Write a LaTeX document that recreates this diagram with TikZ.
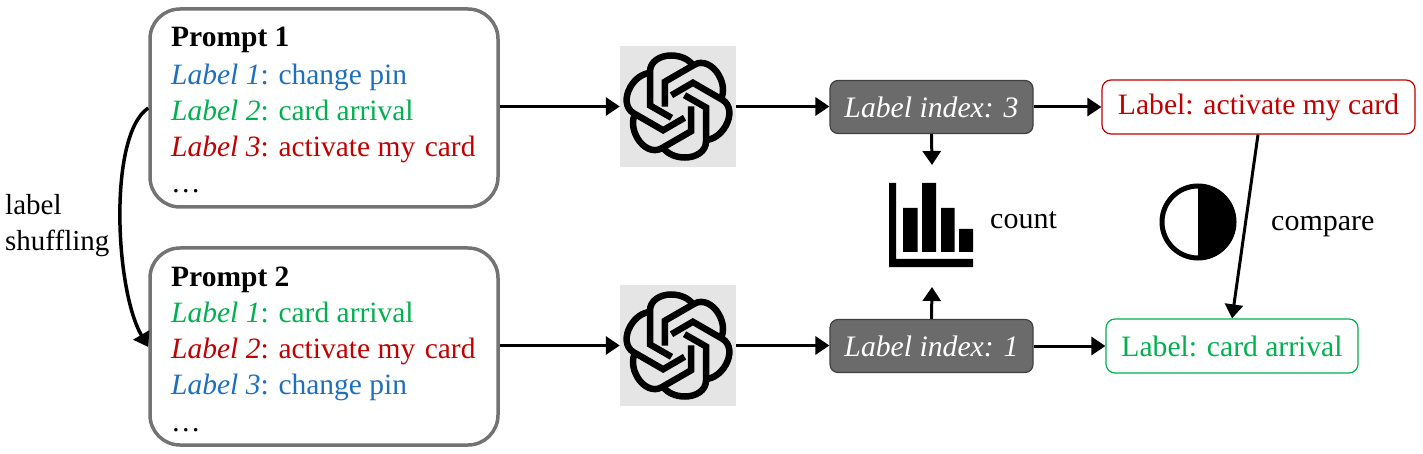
\documentclass[tikz,border=0pt]{standalone}
\usepackage{fontspec}
\setmainfont{Liberation Serif}
\usetikzlibrary{arrows.meta,calc}
\definecolor{lblue}{HTML}{1F6FBF}
\definecolor{lgreen}{HTML}{00B050}
\definecolor{lred}{HTML}{C00000}
\tikzset{
  conn/.style={line width=3pt,-{Triangle[length=14pt,width=18pt]}},
  promptbox/.style={draw=black!55,line width=3.5pt,rounded corners=30pt,fill=white,inner sep=0pt},
  idxbox/.style={draw=black!75,line width=1.2pt,rounded corners=8pt,fill=black!58,text=white,minimum width=203pt,minimum height=53pt,inner sep=0pt,font=\fontsize{29.7}{32}\selectfont\itshape},
  resbox/.style={line width=1.2pt,rounded corners=9pt,fill=white,minimum height=54pt,inner sep=0pt,font=\fontsize{29.6}{32}\selectfont},
  logobg/.style={fill=black!10,draw=none,minimum width=116pt,minimum height=121pt,inner sep=0pt},
  txt/.style={anchor=base west,inner sep=0pt,font=\fontsize{29.5}{32}\selectfont},
}
\newcommand{\gptlogo}[2]{%
  \foreach \a in {0,60,...,300}{
    \begin{scope}[shift={(#1,#2)},rotate=\a]
      \draw[line width=6.5pt,line join=miter,black]
        (-6.5,11.3) -- (-28,-1) -- (-28,-35)
        .. controls (-28,-45) and (-18,-51) .. (-7,-51)
        .. controls (3,-51) and (11,-47) .. (15,-41);
    \end{scope}
  }%
}
\begin{document}
\begin{tikzpicture}[x=1pt,y=-1pt]
\useasboundingbox (0,0) rectangle (1423,454);
% prompt boxes
\node[promptbox,minimum width=348pt,minimum height=198pt] (p1) at (324,108) {};
\node[promptbox,minimum width=348pt,minimum height=197pt] (p2) at (324,346.5) {};
\node[txt,font=\fontsize{29.5}{30}\selectfont\bfseries] (p1t) at (171,47) {Prompt 1};
\node[txt,text=lblue] (p1a) at (171,84.5) {\textit{Label 1}: change pin};
\node[txt,text=lgreen] (p1b) at (171,120.5) {\textit{Label 2}: card arrival};
\node[txt,text=lred] (p1c) at (171,156.5) {\textit{Label 3}: activate my\hspace{2pt} card};
\node[txt] (p1d) at (171,193) {…};
\node[txt,font=\fontsize{29.5}{30}\selectfont\bfseries] (p2t) at (171,286) {Prompt 2};
\node[txt,text=lgreen] (p2a) at (171,322.5) {\textit{Label 1}: card arrival};
\node[txt,text=lred] (p2b) at (171,358.5) {\textit{Label 2}: activate my\hspace{2pt} card};
\node[txt,text=lblue] (p2c) at (171,394.5) {\textit{Label 3}: change pin};
\node[txt] (p2d) at (171,431) {…};
% logos
\node[logobg] (g1) at (678,106.5) {};
\node[logobg] (g2) at (678,345.5) {};
\gptlogo{678}{106.5}
\gptlogo{678}{345.5}
% index boxes
\node[idxbox] (i1) at (931.5,107) {Label index: 3};
\node[idxbox] (i2) at (931.5,346) {Label index: 1};
% results
\node[resbox,draw=lred,text=lred,minimum width=313pt] (r1) at (1258.5,107) {Label: activate my card};
\node[resbox,draw=lgreen,text=lgreen,minimum width=252pt] (r2) at (1232,346) {Label: card arrival};
% chart
\coordinate (chartTop) at (932,165);
\coordinate (chartBot) at (932,287);
\fill (889,183) rectangle (896,267) (889,259) rectangle (973,267);
\fill (903,208) rectangle (917.5,252) (922,183) rectangle (936,252) (941,208) rectangle (954.5,252) (959,229) rectangle (973,252);
\node[txt,font=\fontsize{30}{32}\selectfont] (cnt) at (990,229) {count};
% compare icon
\draw[line width=5pt] (1198,222) circle (36);
\fill (1198,184) arc[start angle=-90,end angle=90,radius=38,y=-1pt] -- cycle;
\node[txt,font=\fontsize{30}{32}\selectfont] (cmp) at (1271,231) {compare};
% shuffle text
\node[txt,font=\fontsize{29}{32}\selectfont] (sh1) at (5,215) {label};
\node[txt,font=\fontsize{29}{32}\selectfont] (sh2) at (5,251) {shuffling};
% connectors
\draw[conn] (p1.east |- g1) -- (g1.west);
\draw[conn] (p2.east |- g2) -- (g2.west);
\draw[conn] (g1.east) -- (i1.west |- g1);
\draw[conn] (g2.east) -- (i2.west |- g2);
\draw[conn] (i1.east) -- (r1.west);
\draw[conn] (i2.east) -- (r2.west);
\draw[conn] (i1.south) -- (chartTop);
\draw[conn] (i2.north) -- (chartBot);
\draw[conn] (r1.south -| 1258,0) -- (r2.north -| 1232,0);
\draw[conn,line width=3.5pt] (p1.west |- 0,108) .. controls (108,135) and (115,290) .. (p2.west |- 0,347);
\end{tikzpicture}
\end{document}
